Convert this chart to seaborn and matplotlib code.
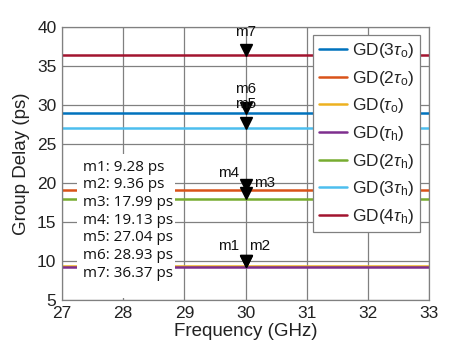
import numpy as np
import pandas as pd
import seaborn as sns
import matplotlib.pyplot as plt
import matplotlib.transforms as mtransforms
from matplotlib.patches import Rectangle

# group delay vs frequency (flat traces)
freq = [27.0, 33.0]
gd_3to = [28.93, 28.93]
gd_2to = [19.13, 19.13]
gd_1to = [9.36, 9.36]
gd_1th = [9.28, 9.28]
gd_2th = [17.99, 17.99]
gd_3th = [27.04, 27.04]
gd_4th = [36.37, 36.37]

labels = [r'GD(3$\tau_{\rm o}$)', r'GD(2$\tau_{\rm o}$)', r'GD($\tau_{\rm o}$)',
          r'GD($\tau_{\rm h}$)', r'GD(2$\tau_{\rm h}$)', r'GD(3$\tau_{\rm h}$)',
          r'GD(4$\tau_{\rm h}$)']
colors = ['#0072BD', '#D95319', '#EDB120', '#7E2F8E', '#77AC30', '#4DBEEE', '#A2142F']
series = [gd_3to, gd_2to, gd_1to, gd_1th, gd_2th, gd_3th, gd_4th]

# markers at 30 GHz
mk_names = ['m1', 'm2', 'm3', 'm4', 'm5', 'm6', 'm7']
mk_freq = 30.0
mk_vals = [9.28, 9.36, 17.99, 19.13, 27.04, 28.93, 36.37]

sns.set_style('white')
plt.rcParams['font.family'] = ['Liberation Sans', 'DejaVu Sans']
plt.rcParams['mathtext.fontset'] = 'custom'
plt.rcParams['mathtext.rm'] = 'Liberation Sans'
plt.rcParams['mathtext.it'] = 'Liberation Sans:italic'

fig = plt.figure(figsize=(4.74, 3.55), dpi=100)
ax = fig.add_axes([62 / 474, 55 / 355, 367 / 474, 273 / 355])

rows = []
for lab, vals in zip(labels, series):
    for f, v in zip(freq, vals):
        rows.append({'Frequency': f, 'GD': v, 'trace': lab})
df = pd.DataFrame(rows)
sns.lineplot(data=df, x='Frequency', y='GD', hue='trace', hue_order=labels,
             palette=colors, linewidth=1.8, ax=ax, zorder=2)

ax.set_xlim(27, 33)
ax.set_ylim(5, 40)
ax.set_xticks(range(27, 34))
ax.set_yticks(range(5, 41, 5))
ax.grid(True, color='#808080', linewidth=0.9)
ax.set_axisbelow(True)
for s in ax.spines.values():
    s.set_color('#808080')
    s.set_linewidth(0.9)
ax.tick_params(direction='in', length=3, color='#808080', labelsize=12.5,
               labelcolor='#222222', pad=4)
ax.set_xlabel('Frequency (GHz)', fontsize=13.5, color='#222222', labelpad=2)
ax.set_ylabel('Group Delay (ps)', fontsize=13.5, color='#222222', labelpad=5)

# white readout box with marker values
ax.add_patch(Rectangle((0.041, 0.007), 0.267, 0.528, transform=ax.transAxes,
                       facecolor='white', edgecolor='none', zorder=3))
readout = '\n'.join(f'{n}: {v:.2f} ps' for n, v in zip(mk_names, mk_vals))
ax.text(0.056, 0.514, readout, transform=ax.transAxes, va='top', ha='left',
        fontsize=11, family=['Open Sans', 'DejaVu Sans'], color='#111111',
        linespacing=1.24, zorder=4)

# data-tip triangles and labels
tri = mtransforms.offset_copy(ax.transData, fig=fig, x=0, y=3.8, units='points')
ax.plot([mk_freq] * len(mk_vals), mk_vals, linestyle='none', marker='v',
        markersize=8, color='black', transform=tri, zorder=5)
offsets = {'m1': (-12, 14.5), 'm2': (10.5, 14.5), 'm3': (13.5, 11.5), 'm4': (-12, 12),
           'm5': (0, 17.5), 'm6': (0, 17.5), 'm7': (0, 17)}
for n, v in zip(mk_names, mk_vals):
    ax.annotate(n, (mk_freq, v), xytext=offsets[n], textcoords='offset points',
                ha='center', va='center', fontsize=11, color='#111111', zorder=6)

leg = ax.legend(loc='upper right', bbox_to_anchor=(0.975, 0.971), borderaxespad=0,
                fontsize=12.5, frameon=True, fancybox=False, framealpha=1,
                edgecolor='#808080', handlelength=1.65, handletextpad=0.25,
                labelspacing=0.5, borderpad=0.35)
leg.get_frame().set_linewidth(0.9)
leg.set_zorder(7)

fig.savefig('out.png', dpi=100)
